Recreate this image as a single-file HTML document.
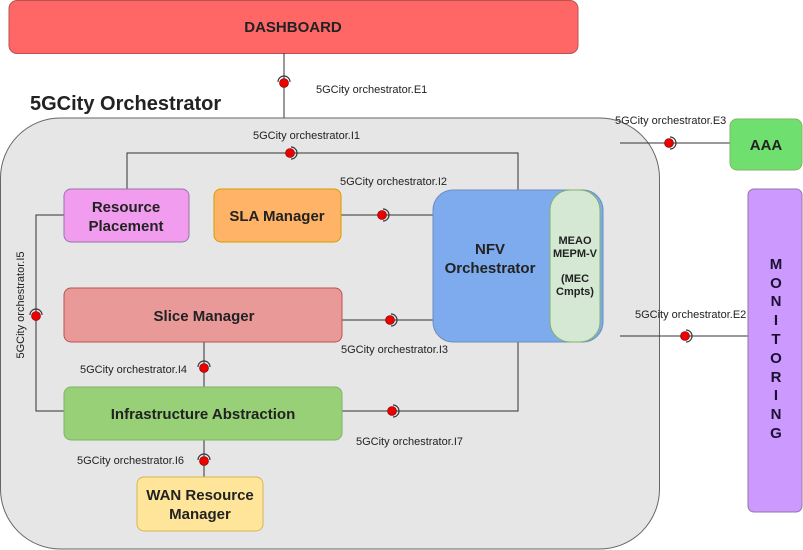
<!DOCTYPE html>
<html><head><meta charset="utf-8"><style>
body{margin:0;background:#fff}
svg{display:block;font-family:"Liberation Sans",sans-serif}
.b{font-weight:bold;font-size:15px;fill:#222;text-anchor:middle}
.l{font-size:11px;fill:#222}
</style></head><body>
<svg width="803" height="550" viewBox="0 0 803 550">
<defs>
<g id="d"><path d="M1,-6 A6,6 0 0 1 1,6" fill="none" stroke="#333" stroke-width="1.2"/><circle r="4.5" fill="#e00" stroke="#600" stroke-width="0.6"/></g>
<g id="dv"><path d="M-6,-1 A6,6 0 0 1 6,-1" fill="none" stroke="#333" stroke-width="1.2"/><circle r="4.5" fill="#e00" stroke="#600" stroke-width="0.6"/></g>
</defs>
<rect x="9" y="0.5" width="569" height="53" rx="8" fill="#ff6666" stroke="#b85450"/>
<text x="293" y="32" class="b">DASHBOARD</text>
<line x1="284" y1="53" x2="284" y2="118" stroke="#333"/>
<use href="#dv" x="284" y="83"/>
<text x="316" y="93" class="l">5GCity orchestrator.E1</text>
<text x="30" y="110" font-size="20" font-weight="bold" fill="#222">5GCity Orchestrator</text>
<rect x="0.5" y="118" width="659" height="431" rx="60" fill="#e6e6e6" stroke="#666"/>
<polyline points="127,189 127,153 518,153 518,192" fill="none" stroke="#333"/>
<use href="#d" x="290" y="153"/>
<text x="253" y="139" class="l">5GCity orchestrator.I1</text>
<polyline points="64,215 36,215 36,411 64,411" fill="none" stroke="#333"/>
<use href="#dv" x="36" y="316"/>
<text transform="translate(24,305) rotate(-90)" text-anchor="middle" class="l">5GCity orchestrator.I5</text>
<line x1="341" y1="215" x2="433" y2="215" stroke="#333"/>
<use href="#d" x="382" y="215"/>
<text x="340" y="185" class="l">5GCity orchestrator.I2</text>
<line x1="342" y1="320" x2="433" y2="320" stroke="#333"/>
<use href="#d" x="390" y="320"/>
<text x="341" y="353" class="l">5GCity orchestrator.I3</text>
<polyline points="518,342 518,411 342,411" fill="none" stroke="#333"/>
<use href="#d" x="392" y="411"/>
<text x="356" y="445" class="l">5GCity orchestrator.I7</text>
<line x1="204" y1="342" x2="204" y2="387" stroke="#333"/>
<use href="#dv" x="204" y="368"/>
<text x="80" y="373" class="l">5GCity orchestrator.I4</text>
<line x1="204" y1="440" x2="204" y2="477" stroke="#333"/>
<use href="#dv" x="204" y="461"/>
<text x="77" y="464" class="l">5GCity orchestrator.I6</text>
<rect x="64" y="189" width="125" height="53" rx="7" fill="#f29cf0" stroke="#9673a6"/>
<text x="126" y="212" class="b">Resource</text><text x="126" y="231" class="b">Placement</text>
<rect x="214" y="189" width="127" height="53" rx="7" fill="#ffb366" stroke="#d79b00"/>
<text x="277" y="221" class="b">SLA Manager</text>
<rect x="433" y="190" width="170" height="152" rx="20" fill="#7eaaee" stroke="#6c8ebf"/>
<rect x="550" y="190" width="50" height="152" rx="20" fill="#d5e8d4" stroke="#82b366"/>
<text x="490" y="254" class="b">NFV</text><text x="490" y="273" class="b">Orchestrator</text>
<g font-size="11" font-weight="bold" fill="#222" text-anchor="middle">
<text x="575" y="244">MEAO</text><text x="575" y="257">MEPM-V</text><text x="575" y="282">(MEC</text><text x="575" y="295">Cmpts)</text></g>
<rect x="64" y="288" width="278" height="54" rx="7" fill="#ea9999" stroke="#b85450"/>
<text x="204" y="321" class="b">Slice Manager</text>
<rect x="64" y="387" width="278" height="53" rx="7" fill="#97d077" stroke="#82b366"/>
<text x="203" y="419" class="b">Infrastructure Abstraction</text>
<rect x="137" y="477" width="126" height="54" rx="7" fill="#ffe599" stroke="#d6b656"/>
<text x="200" y="500" class="b">WAN Resource</text><text x="200" y="519" class="b">Manager</text>
<line x1="620" y1="143" x2="730" y2="143" stroke="#333"/>
<use href="#d" x="669" y="143"/>
<text x="615" y="124" class="l">5GCity orchestrator.E3</text>
<rect x="730" y="119" width="72" height="51" rx="7" fill="#6fe06f" stroke="#82b366"/>
<text x="766" y="150" class="b">AAA</text>
<line x1="620" y1="336" x2="748" y2="336" stroke="#333"/>
<use href="#d" x="685" y="336"/>
<text x="635" y="318" class="l">5GCity orchestrator.E2</text>
<rect x="748" y="189" width="54" height="323" rx="6" fill="#cc99ff" stroke="#9673a6"/>
<g font-size="15" font-weight="bold" fill="#1a1030" text-anchor="middle">
<text x="776" y="269">M</text><text x="776" y="288">O</text><text x="776" y="306">N</text><text x="776" y="325">I</text><text x="776" y="344">T</text><text x="776" y="363">O</text><text x="776" y="382">R</text><text x="776" y="400">I</text><text x="776" y="419">N</text><text x="776" y="438">G</text></g>
</svg>
</body></html>
